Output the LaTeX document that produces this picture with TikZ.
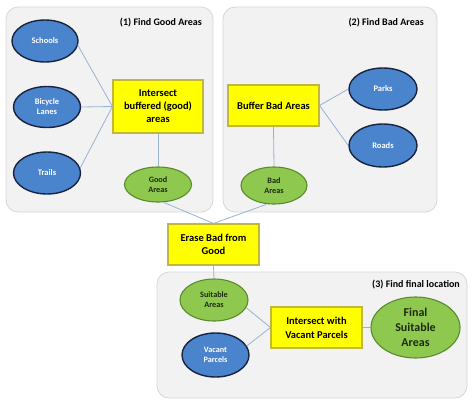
\documentclass[tikz,border=0pt]{standalone}
\usepackage{fontspec}
\setmainfont{Carlito}
\usetikzlibrary{shapes.geometric}
\definecolor{panelfill}{HTML}{F2F2F2}
\definecolor{paneldraw}{HTML}{D6D6D6}
\definecolor{bluefill}{HTML}{4A84CC}
\definecolor{bluedraw}{HTML}{17233F}
\definecolor{greenfill}{HTML}{8FC84E}
\definecolor{greendraw}{HTML}{5B8A2C}
\definecolor{yelfill}{HTML}{FFFF00}
\definecolor{yeldraw}{HTML}{C2B838}
\definecolor{linkcol}{HTML}{98B2D2}
\definecolor{greentext}{HTML}{1E2A10}
\tikzset{
  panel/.style={draw=paneldraw, fill=panelfill, line width=0.8pt, rounded corners=12pt},
  bluenode/.style={ellipse, draw=bluedraw, fill=bluefill, line width=1.4pt, text=white, font=\bfseries\fontsize{8.5}{10}\selectfont, align=center, inner sep=0pt},
  greennode/.style={ellipse, draw=greendraw, fill=greenfill, line width=1.1pt, text=greentext, font=\bfseries\fontsize{8.2}{10}\selectfont, align=center, inner sep=0pt},
  yelbox/.style={rectangle, draw=yeldraw, fill=yelfill, line width=1.1pt, text=black, font=\bfseries\fontsize{10.5}{13}\selectfont, align=center, inner sep=0pt},
  link/.style={draw=linkcol, line width=0.8pt},
  paneltitle/.style={font=\bfseries\fontsize{10}{12}\selectfont, anchor=east, inner sep=0pt}
}
\begin{document}
\begin{tikzpicture}[x=1pt,y=-1pt]
\useasboundingbox (0,0) rectangle (474,405);
% panels
\draw[panel] (6,7) rectangle (213,212);
\draw[panel] (223,7) rectangle (437,212);
\draw[panel] (157,272) rectangle (467,398);
\node[paneltitle] (t1) at (202,23) {(1) Find Good Areas};
\node[paneltitle] (t2) at (424,23) {(2) Find Bad Areas};
\node[paneltitle] (t3) at (460,285) {(3) Find final location};
% panel 1
\node[bluenode, minimum width=66pt, minimum height=42pt] (schools) at (45,41) {Schools};
\node[bluenode, minimum width=67pt, minimum height=41pt] (bike) at (47,107) {Bicycle\\Lanes};
\node[bluenode, minimum width=67pt, minimum height=42pt] (trails) at (47,173) {Trails};
\node[yelbox, minimum width=90pt, minimum height=53pt] (inter) at (158,106.5) {Intersect\\buffered (good)\\areas};
\node[greennode, minimum width=67pt, minimum height=35pt] (good) at (158,184.5) {Good\\Areas};
% panel 2
\node[yelbox, minimum width=91pt, minimum height=41pt] (buffer) at (273.5,105.5) {Buffer Bad Areas};
\node[bluenode, minimum width=68pt, minimum height=42pt] (parks) at (383,89) {Parks};
\node[bluenode, minimum width=68pt, minimum height=43pt] (roads) at (383,145.5) {Roads};
\node[greennode, minimum width=66pt, minimum height=37pt] (bad) at (274,185.5) {Bad\\Areas};
% middle
\node[yelbox, minimum width=91pt, minimum height=41pt] (erase) at (213.5,244.5) {Erase Bad from\\Good};
% panel 3
\node[greennode, minimum width=68pt, minimum height=42pt, font=\bfseries\fontsize{8.2}{10}\selectfont] (suit) at (214,300) {Suitable\\Areas};
\node[bluenode, minimum width=67pt, minimum height=44pt, font=\bfseries\fontsize{8.2}{10}\selectfont] (vacant) at (215.5,355) {Vacant\\Parcels};
\node[yelbox, minimum width=91pt, minimum height=41pt, font=\bfseries\fontsize{10.5}{14}\selectfont] (inter2) at (316.5,327.5) {Intersect with\\Vacant Parcels};
\node[greennode, minimum width=89pt, minimum height=61pt, font=\bfseries\fontsize{12}{15}\selectfont] (final) at (415.5,327.5) {Final\\Suitable\\Areas};
% connectors
\draw[link] (schools.east) ++(-1,4) -- (inter.west);
\draw[link] (bike.east) -- (inter.west);
\draw[link] (trails.east) ++(-1,-5) -- (inter.west);
\draw[link] (inter.south) -- (good.north);
\draw[link] (buffer.east) -- (parks.west);
\draw[link] (buffer.east) -- (roads.west);
\draw[link] (buffer.south) -- (bad.north);
\draw[link] (good.south) ++(6,0) -- (erase.north);
\draw[link] (bad.south) ++(-8,0) -- (erase.north);
\draw[link] (erase.south) -- (suit.north);
\draw[link] (suit.east) ++(-2,8) -- (inter2.west);
\draw[link] (vacant.east) ++(-3,-9) -- (inter2.west);
\draw[link] (inter2.east) -- (final.west);
\end{tikzpicture}
\end{document}
